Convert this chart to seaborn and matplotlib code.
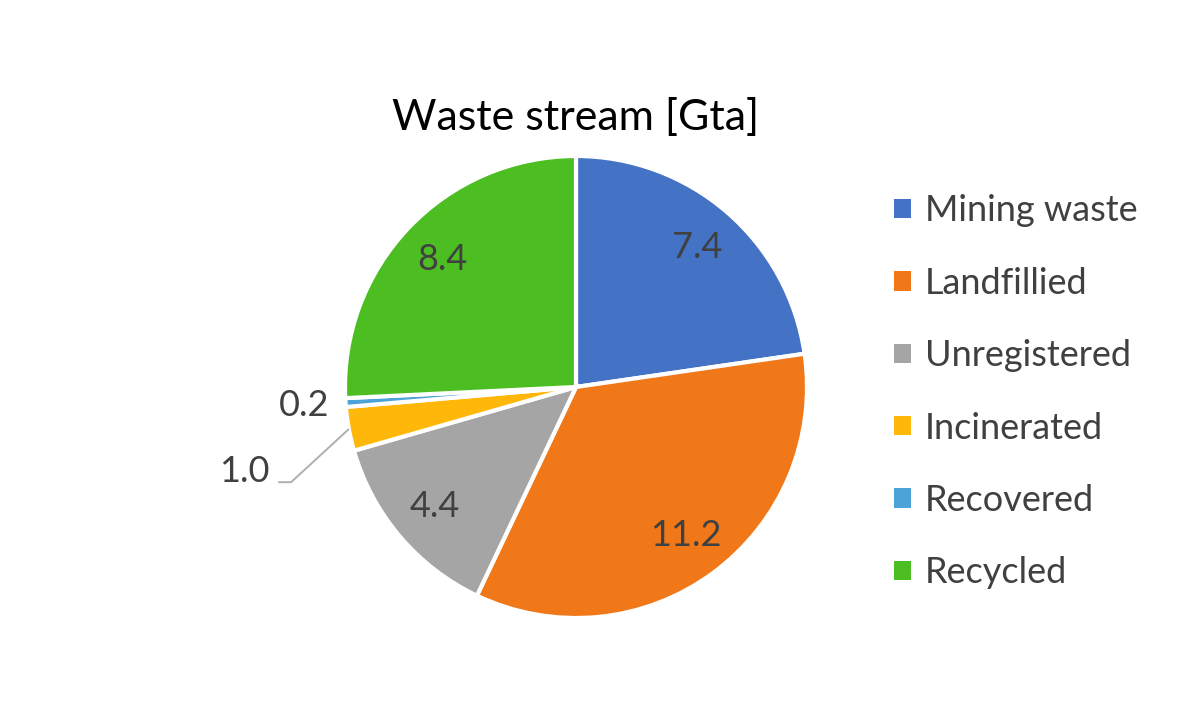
import numpy as np
import matplotlib
matplotlib.use("Agg")
import matplotlib.pyplot as plt
import seaborn as sns
from matplotlib.patches import Patch

categories = ["Mining waste", "Landfillied", "Unregistered", "Incinerated", "Recovered", "Recycled"]
values = [7.4, 11.2, 4.4, 1.0, 0.2, 8.4]
colors = ["#4472C4", "#F07818", "#A5A5A5", "#FFB80A", "#4BA3D8", "#4CBE22"]
title = "Waste stream [Gta]"

sns.set_theme(style="white")
plt.rcParams["font.family"] = ["Lato", "DejaVu Sans"]

fig = plt.figure(figsize=(12, 7.27), dpi=100)
fig.patch.set_facecolor("white")

# pie centre ~ (576, 387) px, radius ~231 px
R = 231
span = 1.7
w_px = 2 * span * R
ax = fig.add_axes([(576 - span * R) / 1200, (340 - span * R) / 727, w_px / 1200, w_px / 727])

wedges, _ = ax.pie(
    values,
    colors=colors,
    startangle=90,
    counterclock=False,
    radius=1.0,
    wedgeprops=dict(edgecolor="white", linewidth=3),
)
# pie() resets the limits, so set them afterwards
ax.set_xlim(-span, span)
ax.set_ylim(-span, span)
ax.axis("off")

label_color = "#404040"
fs = 26
for w, v in zip(wedges, values):
    mid = np.deg2rad((w.theta1 + w.theta2) / 2)
    cx, cy = np.cos(mid), np.sin(mid)
    if v >= 2:
        ax.text(0.8 * cx, 0.8 * cy, f"{v:.1f}", ha="center", va="center",
                fontsize=fs, color=label_color)
    elif v >= 0.5:
        # leader line to outside label
        ex, ey = 1.0 * cx, 1.0 * cy
        elx, ely = ex - 0.25, ey - 0.23
        ax.plot([ex, elx, elx - 0.056], [ey, ely, ely], color="#AFAFAF", lw=1.4,
                solid_capstyle="butt")
        ax.text(elx - 0.095, ely + 0.048, f"{v:.1f}", ha="right", va="center",
                fontsize=fs, color=label_color)
    else:
        ax.text(1.18 * cx, 1.16 * cy, f"{v:.1f}", ha="center", va="center",
                fontsize=fs, color=label_color)

fig.text(576 / 1200, 1 - 118 / 727, title, ha="center", va="center",
         fontsize=31, color="black")

handles = [Patch(facecolor=c, edgecolor="none") for c in colors]
leg = fig.legend(
    handles, categories,
    loc="upper left",
    bbox_to_anchor=(880 / 1200, 1 - 180 / 727),
    frameon=False,
    fontsize=fs,
    handlelength=0.45,
    handleheight=0.45,
    handletextpad=0.4,
    labelspacing=1.09,
    borderaxespad=0,
)
for t in leg.get_texts():
    t.set_color(label_color)

fig.savefig("out.png", dpi=100, facecolor="white")
